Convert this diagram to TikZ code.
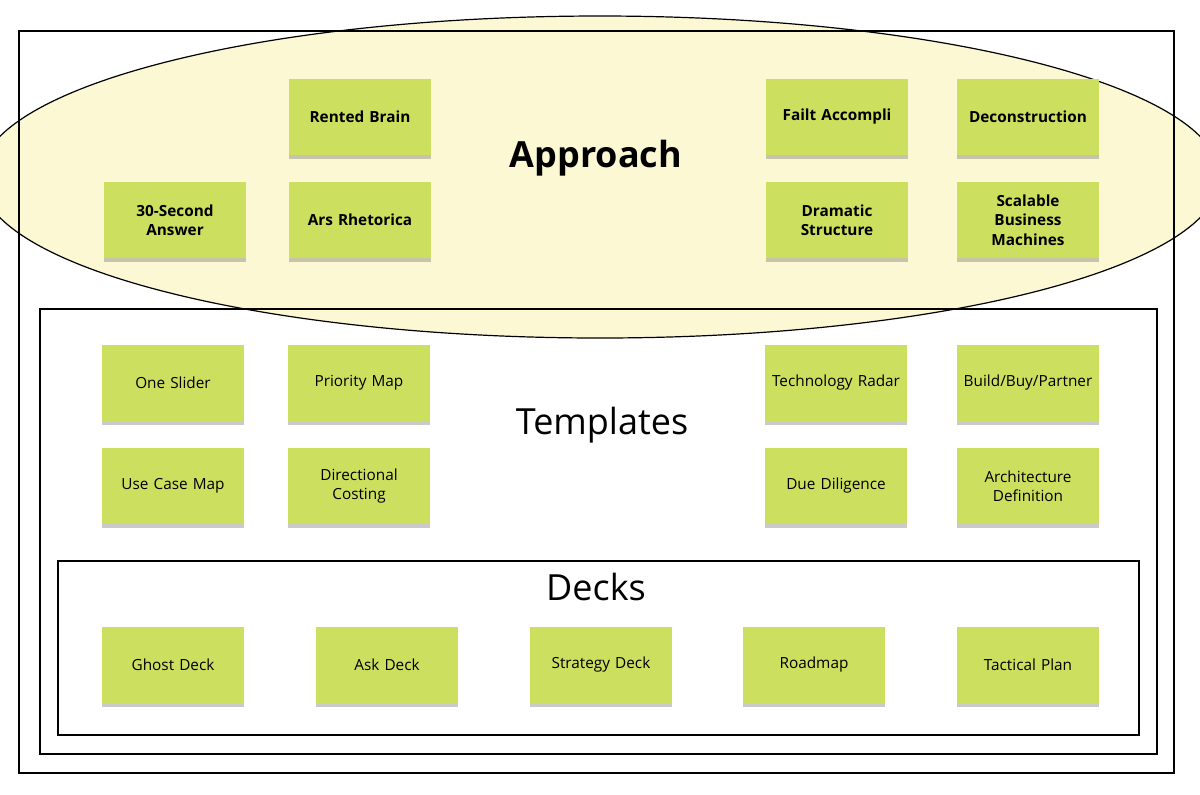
\documentclass[tikz,border=0pt]{standalone}
\usepackage{fontspec}
\setmainfont{Open Sans}
\usetikzlibrary{shadows}
\definecolor{sticky}{HTML}{CDDF5E}
\definecolor{ellfill}{HTML}{F9F5C4}
\begin{document}
\begin{tikzpicture}[x=0.75pt,y=-0.75pt,
    note/.style={fill=sticky, minimum width=106pt, minimum height=57pt,
        inner sep=2pt, align=center, text width=100pt, font=\fontsize{11.5}{14.5}\selectfont,
        drop shadow={shadow xshift=0pt, shadow yshift=-3pt, opacity=0.35, fill=black!60}},
    bnote/.style={note, font=\bfseries\fontsize{11.5}{14.5}\selectfont},
    frame/.style={draw=black, line width=1pt}
    ]
\useasboundingbox (0,0) rectangle (1200,794);
% ellipse background
\fill[ellfill, opacity=0.75] (600,177) ellipse [x radius=620, y radius=161];
\draw[line width=0.9pt] (600,177) ellipse [x radius=620, y radius=161];
% frames
\draw[frame] (19,31) rectangle (1174,773);
\draw[frame] (40,309) rectangle (1157,754);
\draw[frame] (58,561) rectangle (1139,735);
% titles
\node (tapp) at (596,158) {\bfseries\fontsize{27}{32}\selectfont Approach};
\node (ttpl) at (602,425) {\fontsize{27}{32}\selectfont Templates};
\node (tdck) at (596,587) {\fontsize{27}{32}\selectfont Decks};
% approach
\node[bnote] (a1) at (360,117) {Rented Brain};
\node[bnote] (a2) at (360,220) {Ars Rhetorica};
\node[bnote] (a3) at (175,220) {30-Second\\Answer};
\node[bnote] (a4) at (837,117) {Failt Accompli};
\node[bnote] (a5) at (1028,117) {Deconstruction};
\node[bnote] (a6) at (837,220) {Dramatic\\Structure};
\node[bnote] (a7) at (1028,220) {Scalable\\Business\\Machines};
% templates
\node[note] (t1) at (173,383) {One Slider};
\node[note] (t2) at (359,383) {Priority Map};
\node[note] (t3) at (836,383) {Technology Radar};
\node[note] (t4) at (1028,383) {Build/Buy/Partner};
\node[note] (t5) at (173,486) {Use Case Map};
\node[note] (t6) at (359,486) {Directional\\Costing};
\node[note] (t7) at (836,486) {Due Diligence};
\node[note] (t8) at (1028,486) {Architecture\\Definition};
% decks
\node[note] (d1) at (173,665) {Ghost Deck};
\node[note] (d2) at (387,665) {Ask Deck};
\node[note] (d3) at (601,665) {Strategy Deck};
\node[note] (d4) at (814,665) {Roadmap};
\node[note] (d5) at (1028,665) {Tactical Plan};
\end{tikzpicture}
\end{document}
